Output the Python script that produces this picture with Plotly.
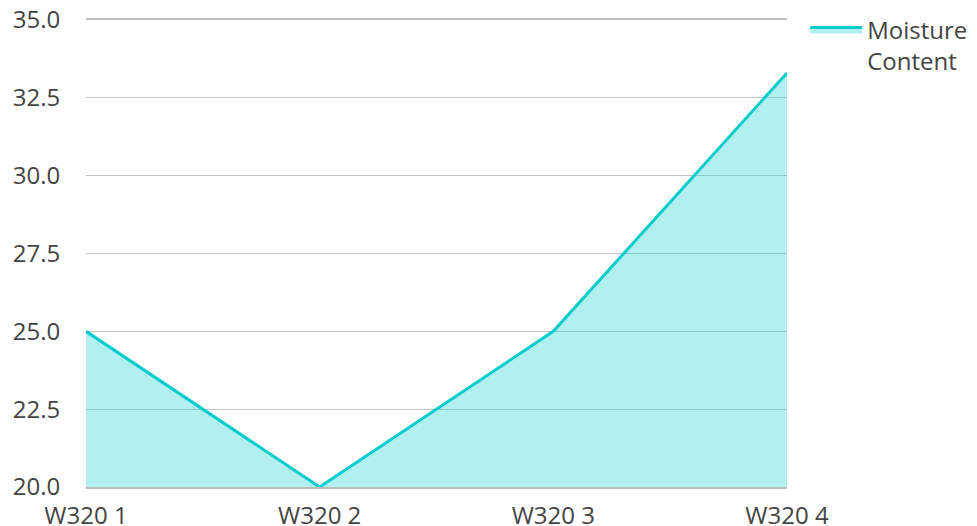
import plotly.graph_objects as go

categories = ["W320 1", "W320 2", "W320 3", "W320 4"]
moisture = [25.0, 20.0, 25.0, 33.3]
series_name = "Moisture<br>Content"
y_ticks = [20.0, 22.5, 25.0, 27.5, 30.0, 32.5, 35.0]

fig = go.Figure()
fig.add_trace(go.Scatter(
    x=categories, y=moisture, name=series_name, mode="lines",
    line=dict(color="#00CCCC", width=3),
    fill="tozeroy", fillcolor="rgba(0,204,204,0.3)",
))

font = dict(family="Open Sans", size=24, color="#444444")
fig.update_layout(
    width=969, height=518,
    margin=dict(l=78, r=190, t=12, b=39, autoexpand=False),
    paper_bgcolor="white", plot_bgcolor="white",
    font=font,
    showlegend=True,
    legend=dict(x=1.026, y=1.027, xanchor="left", yanchor="top", font=font,
                itemwidth=52, valign="top"),
)
fig.update_xaxes(type="category", range=[0, 3], showgrid=False, zeroline=False,
                 showline=True, mirror=True, linecolor="#BDBDBD", linewidth=2,
                 layer="below traces",
                 ticks="outside", ticklen=6, tickcolor="rgba(0,0,0,0)",
                 tickfont=font, automargin=False, ticklabeloverflow="allow")
fig.update_yaxes(range=[20, 35], tickvals=y_ticks,
                 ticktext=[f"{v:.1f}" for v in y_ticks],
                 gridcolor="#C4C4C4", gridwidth=1, zeroline=False,
                 ticks="outside", ticklen=20, tickcolor="rgba(0,0,0,0)",
                 tickfont=font, automargin=False, ticklabeloverflow="allow")

fig.write_html("out.html")
